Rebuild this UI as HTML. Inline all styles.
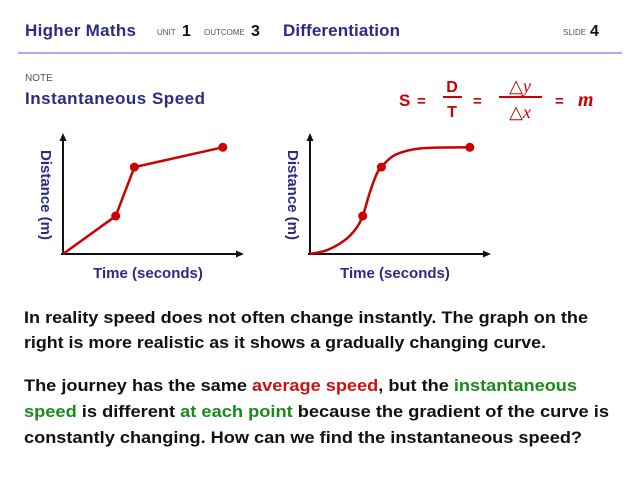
<!DOCTYPE html>
<html><head><meta charset="utf-8"><style>
html,body{margin:0;padding:0;background:#fff;}
svg{display:block;font-family:"Liberation Sans",sans-serif;}
</style></head><body>
<svg width="638" height="478" viewBox="0 0 638 478">
<g>
<text x="25" y="36" font-size="17" font-weight="bold" fill="#2b2b87" textLength="111">Higher Maths</text>
<text x="157" y="35" font-size="8" fill="#555">UNIT</text>
<text x="182" y="36" font-size="16" font-weight="bold" fill="#111">1</text>
<text x="204" y="35" font-size="8" fill="#555">OUTCOME</text>
<text x="251" y="36" font-size="16" font-weight="bold" fill="#111">3</text>
<text x="283" y="36" font-size="17" font-weight="bold" fill="#2b2b87" textLength="117">Differentiation</text>
<text x="563" y="35" font-size="8" fill="#555">SLIDE</text>
<text x="590" y="36" font-size="16" font-weight="bold" fill="#111">4</text>
<rect x="18" y="52" width="604" height="2" fill="#aab0ee"/>
</g>
<text x="25" y="81" font-size="10" fill="#555">NOTE</text>
<text x="25" y="104" font-size="17" font-weight="bold" fill="#2b2b87" textLength="180">Instantaneous Speed</text>
<g fill="#cc0000" font-weight="bold">
<text x="399" y="106" font-size="17">S</text>
<text x="417" y="106" font-size="15">=</text>
<text x="452" y="92" font-size="16" text-anchor="middle">D</text>
<rect x="443" y="96" width="19" height="2"/>
<text x="452" y="117" font-size="16" text-anchor="middle">T</text>
<text x="473" y="106" font-size="15">=</text>
<text x="520" y="92" font-size="18" text-anchor="middle" font-family="Liberation Serif,serif" font-weight="normal">△<tspan font-style="italic">y</tspan></text>
<rect x="499" y="96" width="43" height="2"/>
<text x="520" y="118" font-size="18" text-anchor="middle" font-family="Liberation Serif,serif" font-weight="normal">△<tspan font-style="italic">x</tspan></text>
<text x="555" y="106" font-size="15">=</text>
<text x="578" y="106" font-size="20" font-style="italic" font-family="Liberation Serif,serif">m</text>
</g>
<g id="charts"></g>
<g font-size="17" font-weight="bold" fill="#111">
<text x="24" y="323" textLength="564" lengthAdjust="spacingAndGlyphs">In reality speed does not often change instantly. The graph on the</text>
<text x="24" y="348" textLength="522" lengthAdjust="spacingAndGlyphs">right is more realistic as it shows a gradually changing curve.</text>
<text x="24" y="391" textLength="553" lengthAdjust="spacingAndGlyphs">The journey has the same <tspan fill="#cc1111">average speed</tspan>, but the <tspan fill="#1a8a1a">instantaneous</tspan></text>
<text x="24" y="417" textLength="585" lengthAdjust="spacingAndGlyphs"><tspan fill="#1a8a1a">speed</tspan> is different <tspan fill="#1a8a1a">at each point</tspan> because the gradient of the curve is</text>
<text x="24" y="443" textLength="558" lengthAdjust="spacingAndGlyphs">constantly changing. How can we find the instantaneous speed?</text>
</g>
</svg>
<script>
const times=[0,3.1,4.2,9.4];
const distances=[0,3.45,7.9,9.7];
const curveTimes=[0,1,2,2.7,3.1,3.5,3.9,4.2,5,6.5,9.4];
const curveDist=[0,0.35,1.2,2.3,3.45,5.5,7.2,7.9,9.0,9.6,9.7];
const NS="http://www.w3.org/2000/svg";
const root=document.getElementById('charts');
function mk(tag,attrs,parent){const e=document.createElementNS(NS,tag);for(const k in attrs)e.setAttribute(k,attrs[k]);(parent||root).appendChild(e);return e;}
function chart(ox,name,smooth){
  const g=mk('g',{});
  
  
  const xs=t=>ox+t*17, ys=d=>254-d*11;
  const ax=mk('line',{x1:ox,y1:255,x2:ox,y2:140,stroke:'#111','stroke-width':2},g);
  
  
  mk('polygon',{points:`${ox-3.5},141 ${ox+3.5},141 ${ox},133`,fill:'#111'},g);
  const bx=mk('line',{x1:ox-2,y1:254,x2:ox+174,y2:254,stroke:'#111','stroke-width':2},g);
  
  
  mk('polygon',{points:`${ox+173},250.5 ${ox+173},257.5 ${ox+181},254`,fill:'#111'},g);
  const yl=mk('text',{x:0,y:0,'font-size':15,'font-weight':'bold',fill:'#2b2b87','text-anchor':'middle',transform:`translate(${ox-22},195) rotate(90)`},g);
  yl.textContent='Distance (m)';
  
  
  const xl=mk('text',{x:ox+85,y:278,'font-size':15,'font-weight':'bold',fill:'#2b2b87','text-anchor':'middle'},g);
  xl.textContent='Time (seconds)';
  
  
  let d;
  if(!smooth){d=times.map((t,i)=>(i?'L':'M')+xs(t)+','+ys(distances[i])).join(' ');}
  else{
    const P=curveTimes.map((t,i)=>[xs(t),ys(curveDist[i])]);
    d='M'+P[0][0]+','+P[0][1];
    for(let i=0;i<P.length-1;i++){
      const p0=P[Math.max(i-1,0)],p1=P[i],p2=P[i+1],p3=P[Math.min(i+2,P.length-1)];
      d+=` C${p1[0]+(p2[0]-p0[0])/6},${p1[1]+(p2[1]-p0[1])/6} ${p2[0]-(p3[0]-p1[0])/6},${p2[1]-(p3[1]-p1[1])/6} ${p2[0]},${p2[1]}`;
    }
  }
  const ln=mk('path',{d:d,fill:'none',stroke:'#cc0000','stroke-width':2.5,'stroke-linejoin':'round'},g);
  
  
  times.forEach((t,i)=>{ if(i===0)return;
    const c=mk('circle',{cx:xs(t),cy:ys(distances[i]),r:4.5,fill:'#cc0000'},g);
    
    
  });
}
chart(63,'linear-distance-chart',false);
chart(310,'curved-distance-chart',true);
</script>
</body></html>
